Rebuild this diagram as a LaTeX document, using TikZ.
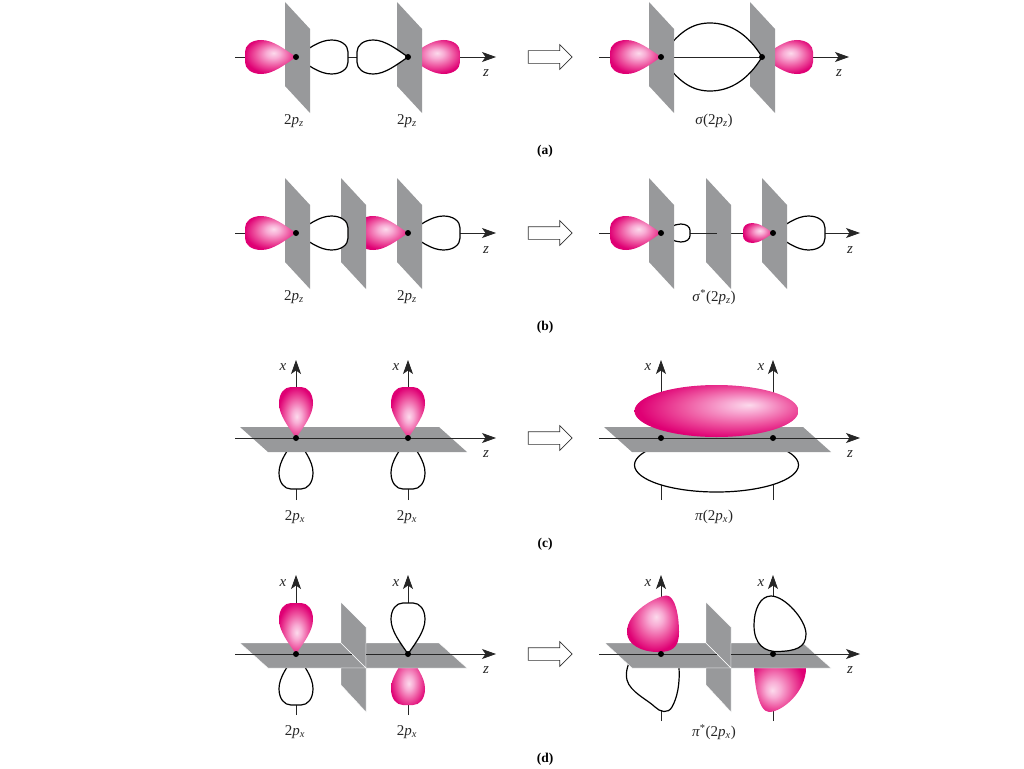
\documentclass[tikz,border=0pt]{standalone}
\usepackage{fontspec}
\setmainfont{Liberation Serif}
\usepackage{xcolor}
\usetikzlibrary{arrows.meta,shapes.arrows}

\definecolor{planegray}{RGB}{152,153,155}
\definecolor{lobehigh}{RGB}{252,218,236}
\definecolor{lobemid}{RGB}{248,172,212}
\definecolor{lobesoft}{RGB}{238,85,160}
\definecolor{lobedeep}{RGB}{223,0,116}

\pgfdeclareradialshading{lobeshade}{\pgfpoint{3bp}{6bp}}{color(0bp)=(lobehigh); color(7bp)=(lobemid); color(17bp)=(lobesoft); color(27bp)=(lobedeep); color(50bp)=(lobedeep)}
\pgfdeclareradialshading{lobeshadeup}{\pgfpoint{1bp}{-4bp}}{color(0bp)=(lobehigh); color(7bp)=(lobemid); color(17bp)=(lobesoft); color(27bp)=(lobedeep); color(50bp)=(lobedeep)}
\pgfdeclareradialshading{lobeshadelow}{\pgfpoint{-7bp}{-6bp}}{color(0bp)=(lobehigh); color(7bp)=(lobemid); color(17bp)=(lobesoft); color(27bp)=(lobedeep); color(50bp)=(lobedeep)}
\pgfdeclareradialshading{lobeshadeflat}{\pgfpoint{10bp}{6bp}}{color(0bp)=(lobehigh); color(6bp)=(lobemid); color(17bp)=(lobesoft); color(28bp)=(lobedeep); color(50bp)=(lobedeep)}

\newcommand{\lobepath}{(0,0) .. controls (.22,.45) and (.45,1) .. (.68,1) .. controls (.88,1) and (1,.68) .. (1,.3) .. controls (1,.1) and (1,-.1) .. (1,-.3) .. controls (1,-.68) and (.88,-1) .. (.68,-1) .. controls (.45,-1) and (.22,-.45) .. (0,0) -- cycle}
\newcommand{\planepath}{(0,0) -- ++(25,27) -- ++(0,84) -- ++(-25,-27) -- cycle}
\newcommand{\flatpath}{(0,0) -- ++(199,0) -- ++(28,25) -- ++(-199,0) -- cycle}
\newcommand{\pz}{\textit{p}\textsubscript{\textit{z}}}
\newcommand{\px}{\textit{p}\textsubscript{\textit{x}}}

\tikzset{
  axisline/.style={line width=.8pt,draw=black!85},
  axisarrow/.style={axisline,-{Stealth[length=14pt,width=10pt,inset=3.5pt]}},
  pinklobe/.style={shade,shading=lobeshade},
  pinkup/.style={shade,shading=lobeshadeup},
  pinklow/.style={shade,shading=lobeshadelow},
  pinkflat/.style={shade,shading=lobeshadeflat},
  whitelobe/.style={draw=black,line width=1.2pt,fill=white},
  planefill/.style={fill=planegray},
  planepiece/.style={fill=planegray,draw=white,line width=.4pt},
  atomdot/.style={fill=black},
  hollowarrow/.style={single arrow,draw=black!80,line width=.7pt,fill=white,inner xsep=0pt,inner ysep=6pt,minimum height=44pt,single arrow head extend=6pt,single arrow tip angle=90},
  lab/.style={font=\fontsize{15}{17}\selectfont,text=black!85,inner sep=0pt},
  axislab/.style={font=\fontsize{15}{17}\selectfont\itshape,text=black!85,inner sep=0pt},
  partlab/.style={font=\fontsize{13.5}{16}\selectfont\bfseries,inner sep=0pt}
}

\begin{document}
\begin{tikzpicture}[x=1pt,y=-1pt]
  \useasboundingbox (0,0) rectangle (1024,768);

  % Row a, left
  \draw[axisarrow] (235,57) -- (496,57);
  \path[pinklobe,shift={(408,57)},xscale=52,yscale=17] \lobepath;
  \fill[planefill,shift={(397,2)}] \planepath;
  \path[whitelobe,shift={(408,57)},xscale=-51,yscale=17] \lobepath;
  \path[whitelobe,shift={(296,57)},xscale=52,yscale=17] \lobepath;
  \fill[planefill,shift={(285,2)}] \planepath;
  \path[pinklobe,shift={(296,57)},xscale=-51,yscale=17] \lobepath;
  \fill[atomdot] (296,57) circle (3pt) (408,57) circle (3pt);
  \node[axislab] (za1) at (486,73) {z};
  \node[lab] (la1) at (294,121) {2\pz};
  \node[lab] (la2) at (407,121) {2\pz};

  % Row a, right
  \node[hollowarrow] (arrowa) at (547,57) {};
  \draw[axisarrow] (599,57) -- (849,57);
  \path[pinklobe,shift={(762,57)},xscale=51,yscale=17] \lobepath;
  \fill[planefill,shift={(750,2)}] \planepath;
  \path[whitelobe] (661,57) .. controls (678,32) and (692,23) .. (710,23) .. controls (730,23) and (748,34) .. (762,57) .. controls (748,80) and (730,91) .. (710,91) .. controls (692,91) and (678,82) .. (661,57) -- cycle;
  \draw[axisline] (661,57) -- (762,57);
  \fill[planefill,shift={(649,2)}] \planepath;
  \path[pinklobe,shift={(661,57)},xscale=-51,yscale=17] \lobepath;
  \fill[atomdot] (661,57) circle (3pt) (762,57) circle (3pt);
  \node[axislab] (za2) at (839,73) {z};
  \node[lab] (la3) at (714,121) {\textit{σ}(2\pz)};
  \node[partlab] (parta) at (545,151) {(a)};

  % Row b, left
  \draw[axisarrow] (235,233) -- (496,233);
  \path[whitelobe,shift={(408,233)},xscale=52,yscale=17] \lobepath;
  \fill[planefill,shift={(397,178)}] \planepath;
  \path[pinklobe,shift={(408,233)},xscale=-51,yscale=17] \lobepath;
  \fill[planefill,shift={(341,178)}] \planepath;
  \path[whitelobe,shift={(296,233)},xscale=52,yscale=17] \lobepath;
  \fill[planefill,shift={(285,178)}] \planepath;
  \path[pinklobe,shift={(296,233)},xscale=-51,yscale=17] \lobepath;
  \fill[atomdot] (296,233) circle (3pt) (408,233) circle (3pt);
  \node[axislab] (zb1) at (486,250) {z};
  \node[lab] (lb1) at (294,297) {2\pz};
  \node[lab] (lb2) at (407,297) {2\pz};

  % Row b, right
  \node[hollowarrow] (arrowb) at (547,233) {};
  \draw[axisarrow] (599,233) -- (860,233);
  \path[whitelobe,shift={(773,233)},xscale=52,yscale=17] \lobepath;
  \fill[planefill,shift={(762,178)}] \planepath;
  \path[pinklobe,shift={(773,233)},xscale=-30,yscale=10] \lobepath;
  \fill[planefill,shift={(706,178)}] \planepath;
  \draw[axisline] (680,233) -- (717,233);
  \path[whitelobe,shift={(661,233)},xscale=29,yscale=9] \lobepath;
  \fill[planefill,shift={(649,178)}] \planepath;
  \path[pinklobe,shift={(661,233)},xscale=-51,yscale=17] \lobepath;
  \fill[atomdot] (661,233) circle (3pt) (773,233) circle (3pt);
  \node[axislab] (zb2) at (850,250) {z};
  \node[lab] (lb3) at (714,297) {\textit{σ}\textsuperscript{*}(2\pz)};
  \node[partlab] (partb) at (545,327) {(b)};

  % Row c, left
  \draw[axisarrow] (296,500) -- (296,360);
  \draw[axisarrow] (408,500) -- (408,360);
  \path[whitelobe,shift={(296,438)},rotate=-90,xscale=51,yscale=17] \lobepath;
  \path[whitelobe,shift={(408,438)},rotate=-90,xscale=51,yscale=17] \lobepath;
  \fill[planefill,shift={(240,427)}] \flatpath;
  \draw[axisarrow] (235,438) -- (496,438);
  \path[pinkup,shift={(296,438)},rotate=90,xscale=51,yscale=17] \lobepath;
  \path[pinkup,shift={(408,438)},rotate=90,xscale=51,yscale=17] \lobepath;
  \fill[atomdot] (296,438) circle (3pt) (408,438) circle (3pt);
  \node[axislab] (xc1) at (283,367) {x};
  \node[axislab] (xc2) at (396,367) {x};
  \node[axislab] (zc1) at (486,454) {z};
  \node[lab] (lc1) at (295,517) {2\px};
  \node[lab] (lc2) at (407,517) {2\px};

  % Row c, right
  \node[hollowarrow] (arrowc) at (547,438) {};
  \draw[axisarrow] (661,500) -- (661,360);
  \draw[axisarrow] (773,500) -- (773,360);
  \path[whitelobe] (716.5,465) ellipse (82 and 27);
  \fill[planefill,shift={(604,427)}] \flatpath;
  \path[pinkflat] (716.5,411) ellipse (82 and 26);
  \draw[axisarrow] (599,438) -- (860,438);
  \fill[atomdot] (661,438) circle (3pt) (773,438) circle (3pt);
  \node[axislab] (xc3) at (648,367) {x};
  \node[axislab] (xc4) at (761,367) {x};
  \node[axislab] (zc2) at (850,454) {z};
  \node[lab] (lc3) at (714,517) {\textit{π}(2\px)};
  \node[partlab] (partc) at (545,544) {(c)};

  % Row d, left
  \draw[axisarrow] (296,715) -- (296,575);
  \draw[axisarrow] (408,715) -- (408,575);
  \path[whitelobe,shift={(296,654)},rotate=-90,xscale=51,yscale=17] \lobepath;
  \path[pinkup,shift={(408,654)},rotate=-90,xscale=51,yscale=17] \lobepath;
  \path[planepiece] (240,643) -- (341,643) -- (366,668) -- (268,668) -- cycle;
  \path[planepiece] (341,602) -- (366,627) -- (366,668) -- (341,643) -- cycle;
  \path[planepiece] (366,643) -- (439,643) -- (467,668) -- (366,668) -- cycle;
  \path[planepiece] (341,668) -- (366,668) -- (366,712) -- (341,685) -- cycle;
  \draw[axisline] (235,654) -- (352,654);
  \draw[axisarrow] (366,654) -- (496,654);
  \path[pinkup,shift={(296,654)},rotate=90,xscale=51,yscale=17] \lobepath;
  \path[whitelobe,shift={(408,654)},rotate=90,xscale=51,yscale=17] \lobepath;
  \fill[atomdot] (296,654) circle (3pt) (408,654) circle (3pt);
  \node[axislab] (xd1) at (283,583) {x};
  \node[axislab] (xd2) at (396,583) {x};
  \node[axislab] (zd1) at (486,670) {z};
  \node[lab] (ld1) at (295,732) {2\px};
  \node[lab] (ld2) at (407,732) {2\px};

  % Row d, right
  \node[hollowarrow] (arrowd) at (547,654) {};
  \draw[axisarrow] (661,721) -- (661,575);
  \draw[axisarrow] (773,721) -- (773,575);
  \path[whitelobe] (632,655) .. controls (628,665) and (625,672) .. (627,680) .. controls (630,692) and (648,700) .. (655,707) .. controls (660,712) and (668,714) .. (672,707) .. controls (677,698) and (680,685) .. (679,668) .. controls (679,662) and (678,658) .. (678,655) -- cycle;
  \path[pinklow] (754,655) .. controls (753,680) and (758,712) .. (769,712) .. controls (782,712) and (806,692) .. (806,668) .. controls (806,660) and (803,655) .. (800,655) -- cycle;
  \path[planepiece] (605,643) -- (706,643) -- (731,668) -- (632,668) -- cycle;
  \path[planepiece] (706,602) -- (731,627) -- (731,668) -- (706,643) -- cycle;
  \path[planepiece] (731,643) -- (803,643) -- (831,668) -- (731,668) -- cycle;
  \path[planepiece] (706,668) -- (731,668) -- (731,712) -- (706,685) -- cycle;
  \draw[axisline] (599,654) -- (717,654);
  \draw[axisarrow] (731,654) -- (860,654);
  \path[pinklobe] (666,595.5) .. controls (655,597) and (627,612) .. (627,632) .. controls (627,645) and (642,652) .. (658,652) .. controls (672,652) and (679,648) .. (679,632) .. controls (679,615) and (675,595) .. (666,595.5) -- cycle;
  \path[whitelobe] (771,596) .. controls (760,596) and (754,610) .. (754,625) .. controls (754,645) and (765,652) .. (778,651.5) .. controls (795,651) and (806,648) .. (806,634) .. controls (806,620) and (785,596) .. (771,596) -- cycle;
  \fill[atomdot] (661,654) circle (3pt) (773,654) circle (3pt);
  \node[axislab] (xd3) at (648,583) {x};
  \node[axislab] (xd4) at (761,583) {x};
  \node[axislab] (zd2) at (850,670) {z};
  \node[lab] (ld3) at (714,732) {\textit{π}\textsuperscript{*}(2\px)};
  \node[partlab] (partd) at (545,759) {(d)};
\end{tikzpicture}
\end{document}
